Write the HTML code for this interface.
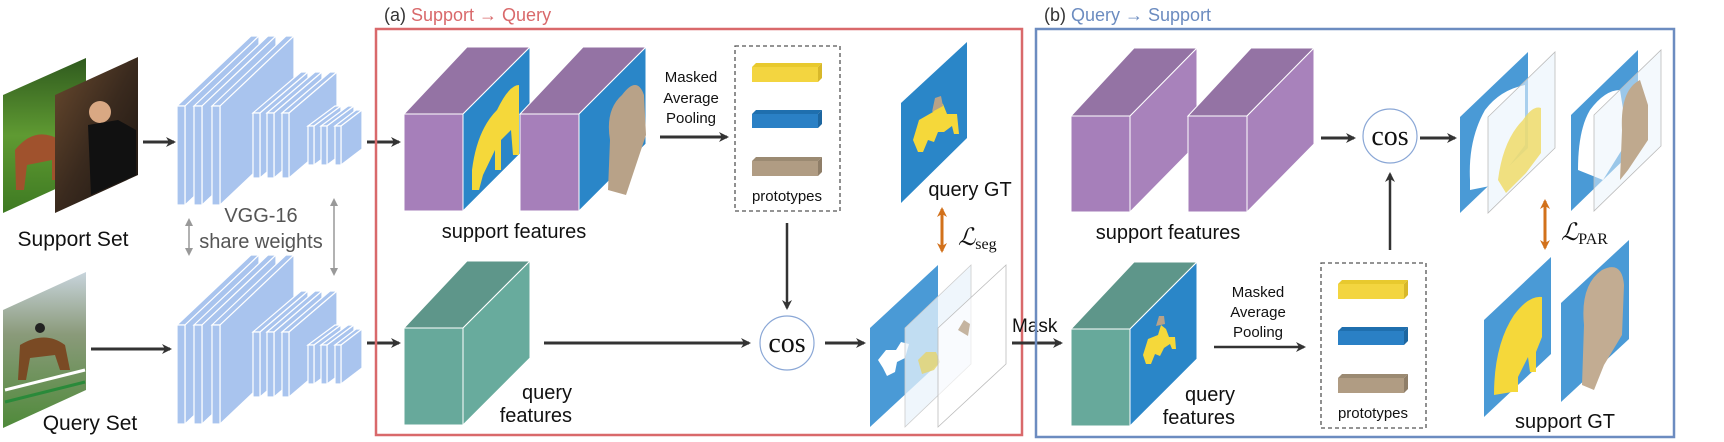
<!DOCTYPE html>
<html><head><meta charset="utf-8"><style>
html,body{margin:0;padding:0;background:#fff}
svg{display:block}
text{font-family:"Liberation Sans",sans-serif}
text.serif{font-family:"Liberation Serif",serif}
</style></head><body>
<svg width="1724" height="442" viewBox="0 0 1724 442" xmlns="http://www.w3.org/2000/svg">
<defs>
<marker id="ah" markerWidth="10" markerHeight="10" refX="8" refY="5" orient="auto" markerUnits="userSpaceOnUse"><path d="M0,0 L10,5 L0,10 L3,5 z" fill="#333"/></marker>
<marker id="ag" markerWidth="8" markerHeight="8" refX="6" refY="4" orient="auto-start-reverse" markerUnits="userSpaceOnUse"><path d="M0,0 L8,4 L0,8 z" fill="#999"/></marker>
<marker id="ao" markerWidth="10" markerHeight="10" refX="8" refY="5" orient="auto-start-reverse" markerUnits="userSpaceOnUse"><path d="M0,0 L10,5 L0,10 L3,5 z" fill="#d2711b"/></marker>
<linearGradient id="g1" x1="0" y1="0" x2="0" y2="1"><stop offset="0" stop-color="#2f5a1e"/><stop offset=".5" stop-color="#5f9a32"/><stop offset="1" stop-color="#3e7a22"/></linearGradient>
<linearGradient id="g2" x1="0" y1="0" x2="1" y2="1"><stop offset="0" stop-color="#6a4a2e"/><stop offset=".5" stop-color="#3a2a1e"/><stop offset="1" stop-color="#1a1410"/></linearGradient>
<linearGradient id="g3" x1="0" y1="0" x2="0" y2="1"><stop offset="0" stop-color="#c8d4dc"/><stop offset=".4" stop-color="#8a9a7a"/><stop offset="1" stop-color="#4f8a3a"/></linearGradient>
</defs>

<polygon points="3,95 86,58 86,175 3,213" fill="url(#g1)"/>
<path d="M15,150 q20,-25 45,-10 l0,40 l-8,0 l0,-20 l-25,5 l-3,25 l-8,0z" fill="#a0522d"/>
<polygon points="55,95 138,57 138,175 55,213" fill="url(#g2)"/>
<circle cx="100" cy="112" r="11" fill="#d9a883"/>
<path d="M88,125 l30,-5 l18,10 l0,45 l-45,20z" fill="#111"/>
<text x="73" y="246" font-size="21" text-anchor="middle" fill="#111">Support Set</text>
<polygon points="3,310 86,272 86,390 3,428" fill="url(#g3)"/>
<path d="M20,345 q25,-15 45,0 l5,25 l-10,0 l-5,-15 l-25,3 l-4,22 l-8,0z" fill="#7a4a24"/>
<circle cx="40" cy="328" r="5" fill="#222"/>
<line x1="5" y1="390" x2="85" y2="370" stroke="#fff" stroke-width="3"/>
<line x1="5" y1="402" x2="85" y2="382" stroke="#2a8a3a" stroke-width="3"/>
<text x="90" y="430" font-size="21" text-anchor="middle" fill="#111">Query Set</text>

<line x1="143" y1="142" x2="174" y2="142" stroke="#333" stroke-width="3" marker-end="url(#ah)"/>
<line x1="91" y1="349" x2="170" y2="349" stroke="#333" stroke-width="3" marker-end="url(#ah)"/>

<g id="vgg" fill="#a9c4ee" stroke="#fff" stroke-width="1.2">
<polygon points="177,106 251,36 259,36 185,106"/><polygon points="185,106 259,36 259,135 185,205"/><rect x="177" y="106" width="8" height="99"/>
<polygon points="194,106 268,36 276,36 202,106"/><polygon points="202,106 276,36 276,135 202,205"/><rect x="194" y="106" width="8" height="99"/>
<polygon points="212,106 286,36 294,36 220,106"/><polygon points="220,106 294,36 294,135 220,205"/><rect x="212" y="106" width="8" height="99"/>
<polygon points="253,113 301,72 308,72 260,113"/><polygon points="260,113 308,72 308,137 260,178"/><rect x="253" y="113" width="7" height="65"/>
<polygon points="267,113 315,72 322,72 274,113"/><polygon points="274,113 322,72 322,137 274,178"/><rect x="267" y="113" width="7" height="65"/>
<polygon points="282,113 330,72 337,72 289,113"/><polygon points="289,113 337,72 337,137 289,178"/><rect x="282" y="113" width="7" height="65"/>
<polygon points="308,126 335,106 341,106 314,126"/><polygon points="314,126 341,106 341,145 314,165"/><rect x="308" y="126" width="6" height="39"/>
<polygon points="321,126 348,106 354,106 327,126"/><polygon points="327,126 354,106 354,145 327,165"/><rect x="321" y="126" width="6" height="39"/>
<polygon points="335,126 356,110 362,110 341,126"/><polygon points="341,126 362,110 362,149 341,165"/><rect x="335" y="126" width="6" height="39"/>
</g>
<use href="#vgg" transform="translate(0,219)"/>
<text x="261" y="222" font-size="20" text-anchor="middle" fill="#555">VGG-16</text>
<text x="261" y="248" font-size="20" text-anchor="middle" fill="#555">share weights</text>
<line x1="189" y1="220" x2="189" y2="254" stroke="#999" stroke-width="1.5" marker-start="url(#ag)" marker-end="url(#ag)"/>
<line x1="334" y1="200" x2="334" y2="274" stroke="#999" stroke-width="1.5" marker-start="url(#ag)" marker-end="url(#ag)"/>
<line x1="367" y1="142" x2="399" y2="142" stroke="#333" stroke-width="3" marker-end="url(#ah)"/>
<line x1="367" y1="343" x2="399" y2="343" stroke="#333" stroke-width="3" marker-end="url(#ah)"/>

<text x="384" y="21" font-size="18" fill="#333">(a) <tspan fill="#d9696b">Support → Query</tspan></text>
<rect x="376" y="29" width="646" height="406" fill="none" stroke="#d9696b" stroke-width="2.5"/>

<g stroke="#fff" stroke-width="1">
<polygon points="404,114 467,47 530,47 463,114" fill="#9473a4"/>
<polygon points="463,114 530,47 530,144 463,211" fill="#2a86c8"/>
<rect x="404" y="114" width="59" height="97" fill="#a67fba"/>
<polygon points="520,114 583,47 646,47 579,114" fill="#9473a4"/>
<polygon points="579,114 646,47 646,144 579,211" fill="#2a86c8"/>
<rect x="520" y="114" width="59" height="97" fill="#a67fba"/>
</g>
<path d="M472,170 q5,-40 25,-60 q12,-25 22,-25 l0,70 l-6,0 l-2,-25 l-10,10 l0,30 l-6,0 l0,-20 l-12,25 l-4,15 l-7,0z" fill="#f5d83a"/>
<path d="M608,190 l2,-50 q-5,-30 12,-45 q15,-20 22,0 l2,40 l-20,60 z" fill="#b8a288"/>
<text x="514" y="238" font-size="20" text-anchor="middle" fill="#111">support features</text>
<text x="691" y="82" font-size="15" text-anchor="middle" fill="#111">Masked</text>
<text x="691" y="103" font-size="15" text-anchor="middle" fill="#111">Average</text>
<text x="691" y="123" font-size="15" text-anchor="middle" fill="#111">Pooling</text>
<line x1="660" y1="137" x2="727" y2="137" stroke="#333" stroke-width="3" marker-end="url(#ah)"/>
<g id="protos">
<rect x="735" y="46" width="105" height="165" fill="none" stroke="#555" stroke-width="1.3" stroke-dasharray="4,3"/>
<polygon points="752,67 756,63 822,63 818,67" fill="#e8c92e"/><rect x="752" y="67" width="66" height="15" fill="#f3d540"/><polygon points="818,67 822,63 822,78 818,82" fill="#d8b82a"/>
<polygon points="752,114 756,110 822,110 818,114" fill="#1f6fae"/><rect x="752" y="114" width="66" height="14" fill="#2a80c5"/><polygon points="818,114 822,110 822,124 818,128" fill="#1d66a0"/>
<polygon points="752,161 756,157 822,157 818,161" fill="#9b8a72"/><rect x="752" y="161" width="66" height="15" fill="#b09c83"/><polygon points="818,161 822,157 822,172 818,176" fill="#8f7e68"/>
<text x="787" y="201" font-size="15" text-anchor="middle" fill="#111">prototypes</text>
</g>
<line x1="787" y1="223" x2="787" y2="308" stroke="#333" stroke-width="2.5" marker-end="url(#ah)"/>
<circle cx="787" cy="343" r="27" fill="#fff" stroke="#8aa7d6" stroke-width="1.2"/>
<text class="serif" x="787" y="352" font-size="28" text-anchor="middle" fill="#111">cos</text>
<line x1="544" y1="343" x2="749" y2="343" stroke="#333" stroke-width="3" marker-end="url(#ah)"/>
<line x1="825" y1="343" x2="864" y2="343" stroke="#333" stroke-width="3" marker-end="url(#ah)"/>

<g stroke="#fff" stroke-width="1">
<polygon points="404,328 467,261 530,261 463,328" fill="#5e968a"/>
<polygon points="463,328 530,261 530,358 463,425" fill="#68ab9d"/>
<rect x="404" y="328" width="59" height="97" fill="#67a99b"/>
</g>
<text x="572" y="399" font-size="20" text-anchor="end" fill="#111">query</text>
<text x="572" y="422" font-size="20" text-anchor="end" fill="#111">features</text>

<polygon points="901,103 967,42 967,138 901,203" fill="#2a86c8"/>
<path d="M913,140 l6,-20 l14,-8 l4,-12 l6,4 l4,10 l10,0 l2,20 l-5,0 l-2,-8 l-8,6 l-6,0 l-4,10 l-6,-2 l-5,12 l-5,0z" fill="#f5d83a"/>
<path d="M932,112 l3,-14 l6,-2 l2,10z" fill="#b8a288"/>
<text x="970" y="196" font-size="20" text-anchor="middle" fill="#111">query GT</text>
<line x1="942" y1="209" x2="942" y2="251" stroke="#d2711b" stroke-width="3" marker-start="url(#ao)" marker-end="url(#ao)"/>
<text class="serif" x="958" y="245" font-size="24" font-style="italic" fill="#111">ℒ<tspan font-size="16" font-style="normal" dy="4">seg</tspan></text>
<polygon points="870,328 938,265 938,364 870,427" fill="#4a9ad6"/>
<path d="M878,360 l8,-10 l10,0 l5,-8 l8,2 l-4,14 l-8,4 l-2,10 l-8,4 l-4,-8z" fill="#fff"/>
<polygon points="905,328 971,265 971,364 905,427" fill="#eaf3fb" fill-opacity=".75" stroke="#ccc" stroke-width=".8"/>
<path d="M918,360 l8,-8 l10,0 l4,10 l-6,8 l-12,4z" fill="#e6d46a" opacity=".8"/>
<polygon points="938,328 1006,265 1006,364 938,427" fill="#fff" fill-opacity=".6" stroke="#bbb" stroke-width=".8"/>
<path d="M958,330 l6,-10 l6,4 l-2,12z" fill="#b8a288" opacity=".8"/>

<text x="1012" y="332" font-size="19" fill="#111">Mask</text>
<line x1="1012" y1="343" x2="1061" y2="343" stroke="#333" stroke-width="3" marker-end="url(#ah)"/>

<text x="1044" y="21" font-size="18" fill="#333">(b) <tspan fill="#6c8cc0">Query → Support</tspan></text>
<rect x="1036" y="29" width="638" height="408" fill="none" stroke="#6c8cc0" stroke-width="2.5"/>

<g stroke="#fff" stroke-width="1">
<polygon points="1071,116 1134,48 1197,48 1130,116" fill="#9473a4"/>
<polygon points="1130,116 1197,48 1197,144 1130,212" fill="#a882bb"/>
<rect x="1071" y="116" width="59" height="96" fill="#a67fba"/>
<polygon points="1188,116 1251,48 1314,48 1247,116" fill="#9473a4"/>
<polygon points="1247,116 1314,48 1314,144 1247,212" fill="#a882bb"/>
<rect x="1188" y="116" width="59" height="96" fill="#a67fba"/>
</g>
<text x="1168" y="239" font-size="20" text-anchor="middle" fill="#111">support features</text>
<line x1="1321" y1="138" x2="1354" y2="138" stroke="#333" stroke-width="3" marker-end="url(#ah)"/>
<circle cx="1390" cy="136" r="27" fill="#fff" stroke="#8aa7d6" stroke-width="1.2"/>
<text class="serif" x="1390" y="145" font-size="28" text-anchor="middle" fill="#111">cos</text>
<line x1="1420" y1="138" x2="1455" y2="138" stroke="#333" stroke-width="3" marker-end="url(#ah)"/>
<line x1="1390" y1="250" x2="1390" y2="174" stroke="#333" stroke-width="2.5" marker-end="url(#ah)"/>

<polygon points="1460,117 1528,52 1528,148 1460,213" fill="#4a9ad6"/>
<path d="M1470,180 q-2,-40 15,-70 q15,-20 40,-25 l0,60 l-30,40 l-25,5z" fill="#fff"/>
<polygon points="1488,117 1555,52 1555,148 1488,213" fill="#eaf3fb" fill-opacity=".6" stroke="#bbb" stroke-width=".8"/>
<path d="M1498,180 q5,-40 25,-60 q10,-15 18,-12 l0,45 l-15,20 l-20,20z" fill="#f0dc6a" opacity=".85"/>
<polygon points="1571,115 1638,50 1638,146 1571,211" fill="#4a9ad6"/>
<path d="M1578,170 q0,-40 12,-60 q15,-20 30,-20 l8,50 l-25,40z" fill="#fff"/>
<polygon points="1594,115 1661,50 1661,146 1594,211" fill="#eaf3fb" fill-opacity=".5" stroke="#bbb" stroke-width=".8"/>
<path d="M1620,180 l2,-50 q-2,-40 18,-50 l8,25 l0,35 l-20,30z" fill="#bfa98e"/>
<line x1="1545" y1="201" x2="1545" y2="248" stroke="#d2711b" stroke-width="3" marker-start="url(#ao)" marker-end="url(#ao)"/>
<text class="serif" x="1561" y="240" font-size="24" font-style="italic" fill="#111">ℒ<tspan font-size="16" font-style="normal" dy="4">PAR</tspan></text>

<g stroke="#fff" stroke-width="1">
<polygon points="1071,329 1134,262 1197,262 1130,329" fill="#5e968a"/>
<polygon points="1130,329 1197,262 1197,359 1130,426" fill="#2a86c8"/>
<rect x="1071" y="329" width="59" height="97" fill="#67a99b"/>
</g>
<path d="M1143,355 l5,-16 l10,-4 l3,-10 l5,4 l3,8 l6,0 l1,12 l-4,0 l-2,-5 l-6,4 l-4,8 l-5,-2 l-4,10 l-5,0z" fill="#f5d83a"/>
<path d="M1156,326 l3,-10 l5,0 l1,8z" fill="#b8a288"/>
<text x="1235" y="401" font-size="20" text-anchor="end" fill="#111">query</text>
<text x="1235" y="424" font-size="20" text-anchor="end" fill="#111">features</text>
<text x="1258" y="297" font-size="15" text-anchor="middle" fill="#111">Masked</text>
<text x="1258" y="317" font-size="15" text-anchor="middle" fill="#111">Average</text>
<text x="1258" y="337" font-size="15" text-anchor="middle" fill="#111">Pooling</text>
<line x1="1214" y1="347" x2="1304" y2="347" stroke="#333" stroke-width="2.5" marker-end="url(#ah)"/>
<use href="#protos" transform="translate(586,217)"/>

<polygon points="1484,320 1551,257 1551,354 1484,417" fill="#4a9ad6"/>
<path d="M1494,395 q0,-50 20,-80 q15,-20 28,-18 l0,40 l-6,15 l0,20 l-6,0 l-2,-15 l-10,20 l0,15 l-6,0z" fill="#f5d83a"/>
<polygon points="1561,303 1629,240 1629,339 1561,402" fill="#4a9ad6"/>
<path d="M1582,385 l2,-60 q-4,-40 18,-55 q20,-10 22,15 l-2,50 l-18,30 l-10,25z" fill="#c2ac92"/>
<text x="1565" y="428" font-size="20" text-anchor="middle" fill="#111">support GT</text>
</svg>
</body></html>
